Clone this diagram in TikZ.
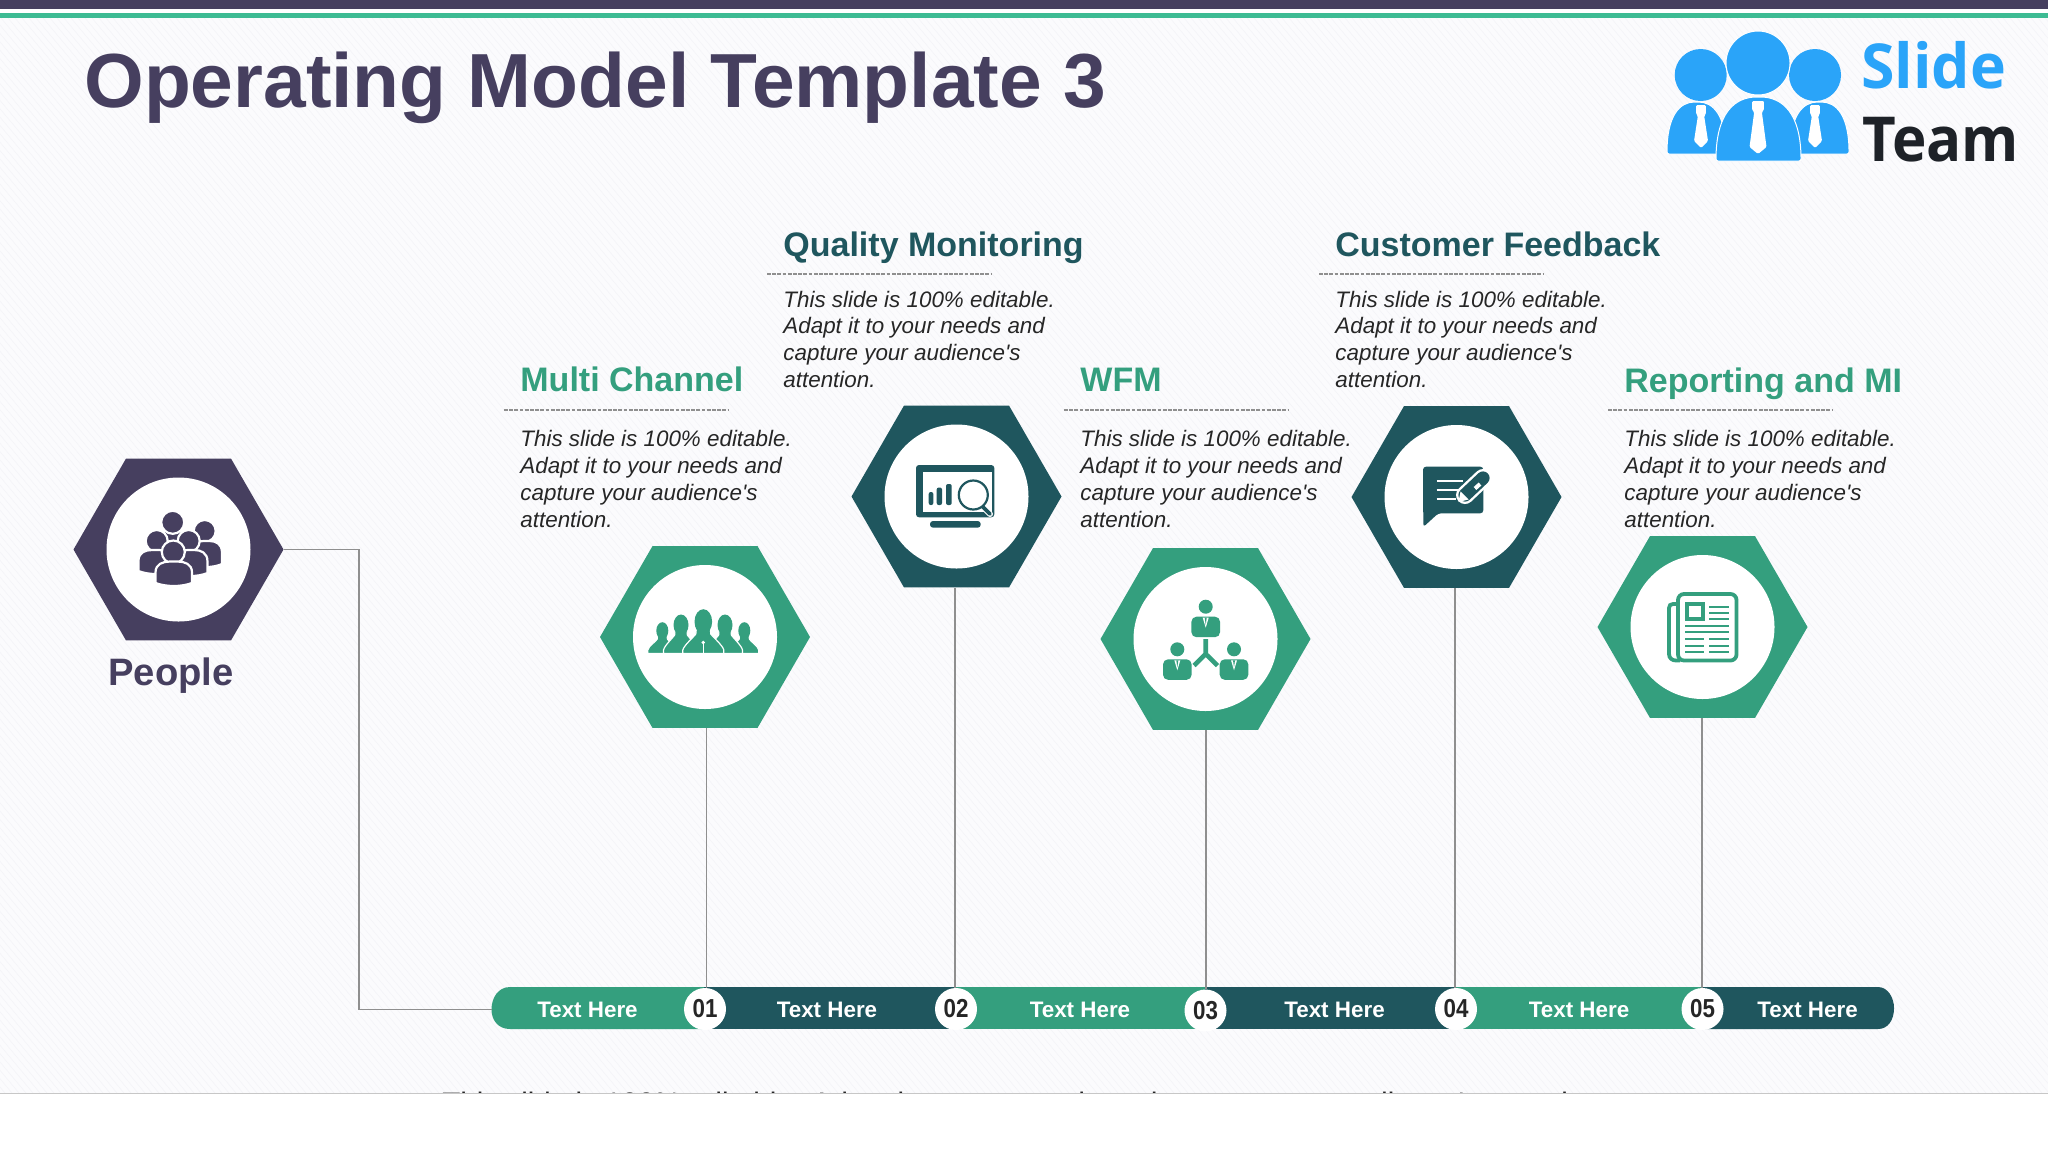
\documentclass[tikz,border=0pt]{standalone}
\usepackage{fontspec}
\usetikzlibrary{shapes.geometric}
\setmainfont{Liberation Sans}
\newfontfamily\plainsans{Liberation Sans}
\newfontfamily\logofont{Open Sans}
\definecolor{purp}{HTML}{463F5F}
\definecolor{topgreen}{HTML}{3DBB93}
\definecolor{grn}{HTML}{349F7E}
\definecolor{teal}{HTML}{1F565E}
\definecolor{bgc}{HTML}{FBFBFD}
\definecolor{hatchc}{HTML}{F4F4F8}
\definecolor{linec}{HTML}{8F8F8F}
\definecolor{txt}{HTML}{262626}
\definecolor{logob}{HTML}{2AA4F9}
\definecolor{logod}{HTML}{1E2228}
\tikzset{
  hexa/.style={regular polygon,regular polygon sides=6,minimum size=105pt,inner sep=0pt,draw=none},
  hole/.style={circle,fill=white,draw=none,minimum size=72pt,inner sep=0pt},
  conn/.style={draw=linec,line width=0.7pt},
  rulel/.style={draw=linec,line width=0.55pt,dash pattern=on 1.9pt off 0.7pt},
  heading/.style={anchor=base west,inner sep=0pt,font=\fontsize{17}{21}\selectfont\bfseries},
  bodytxt/.style={anchor=north west,inner sep=0pt,align=left,text=txt,font=\fontsize{11.2}{13.4}\selectfont\plainsans\itshape},
  barlabel/.style={text=white,inner sep=0pt,font=\fontsize{11.2}{13}\selectfont\bfseries},
  numdot/.style={circle,fill=white,draw=none,minimum size=21pt,inner sep=0pt,text=txt,font=\fontsize{13}{15}\selectfont\bfseries},
  icoP/.style={fill=purp,draw=white,line width=1.1pt},
  silG/.style={fill=grn,draw=white,line width=0.6pt},
}
\newcommand\hexnode[4]{%
  \node[hexa,fill=#4] (h#1) at (#2,#3) {};
  \node[hole] (c#1) at (#2,#3) {};}
\newcommand\bodytext{This slide is 100\% editable.\\Adapt it to your needs and\\capture your audience's\\attention.}
\newcommand\numtxt[1]{\scalebox{0.86}[1]{#1}}
% head cx cy r
\newcommand\ihead[4][icoP]{\path[#1] (#2,#3) circle[radius=#4];}
% left right top bottom
\newcommand\ibust[5][icoP]{\path[#1] (#2,{#5-3}) -- (#2,{#4+0.45*(#5-#4)})
  .. controls (#2,{#4+0.1*(#5-#4)}) and ({#2+0.2*(#3-#2)},#4) .. ({#2+0.4*(#3-#2)},#4)
  -- ({#2+0.6*(#3-#2)},#4)
  .. controls ({#2+0.8*(#3-#2)},#4) and (#3,{#4+0.1*(#5-#4)}) .. (#3,{#4+0.45*(#5-#4)})
  -- (#3,{#5-3}) .. controls ({#2+0.7*(#3-#2)},{#5+1}) and ({#2+0.3*(#3-#2)},{#5+1}) .. cycle;}
% silhouette: cx hy rx ry halfw top bottom
\newcommand\isil[7]{%
  \path[silG] ({#1-#5},#7) -- ({#1-#5},{#7-3.5}) .. controls ({#1-#5+1},{#7-8}) and ({#1-#3*1.1},{#6+3}) .. ({#1-#3*0.85},{#6})
    -- ({#1-#3*0.8},{#2+#4*0.6})
    -- ({#1+#3*0.8},{#2+#4*0.6}) -- ({#1+#3*0.85},{#6}) .. controls ({#1+#3*1.1},{#6+3}) and ({#1+#5-1},{#7-8}) .. ({#1+#5},{#7-3.5}) -- ({#1+#5},#7) -- cycle;
  \path[fill=grn] (#1,#2) ellipse[x radius=#3,y radius=#4];}
% suit person: cx head-cy
\newcommand\isuit[2]{%
  \fill[grn] (#1,#2) circle[radius=7];
  \fill[grn,rounded corners=2.5pt] ({#1-14.3},{#2+30.5}) -- ({#1-14.3},{#2+10}) -- ({#1+14.3},{#2+10}) -- ({#1+14.3},{#2+30.5}) -- cycle;
  \fill[white] ({#1-3},{#2+11}) -- ({#1+3},{#2+11}) -- (#1,{#2+21}) -- cycle;
  \fill[grn] ({#1-1},{#2+11}) -- ({#1+1},{#2+11}) -- (#1,{#2+18}) -- cycle;}
% logo body: left right top bottom
\newcommand\logobody[4]{\path[fill=logob,draw=white,line width=0.5pt,rounded corners=1pt]
  (#1,#4) .. controls (#1,{#3+0.25*(#4-#3)}) and ({#1+0.22*(#2-#1)},#3) .. ({(#1+#2)/2},#3)
  .. controls ({#2-0.22*(#2-#1)},#3) and (#2,{#3+0.25*(#4-#3)}) .. (#2,#4) -- cycle;}
% logo tie: cx halfw top tip
\newcommand\logotie[4]{\path[fill=white,rounded corners=0.6pt] ({#1-#2*0.7},#3) -- ({#1+#2*0.7},#3) -- ({#1+#2*0.7},{#3+9}) -- ({#1+#2*0.45},{#3+11})
  -- ({#1+#2},{#4-7}) -- (#1,#4) -- ({#1-#2},{#4-7}) -- ({#1-#2*0.45},{#3+11}) -- ({#1-#2*0.7},{#3+9}) -- cycle;}
\begin{document}
\begin{tikzpicture}[x=0.5pt,y=-0.5pt]
\useasboundingbox (0,0) rectangle (2048,1152);
\fill[white] (0,0) rectangle (2048,1152);
\fill[bgc] (0,18) rectangle (2048,1093);
\begin{scope}
  \clip (0,18) rectangle (2048,1093);
  \foreach \hx in {-1000,-993,...,2048}{\draw[hatchc,line width=0.3pt] (\hx,18) -- ({\hx+900},1093);}
\end{scope}
% cut-off footer text
\begin{scope}
  \clip (0,1000) rectangle (2048,1093.5);
  \node[anchor=base west,inner sep=0pt,text=txt,font=\fontsize{14.8}{17}\selectfont\plainsans] (foot) at (442,1113) {This slide is 100\% editable. Adapt it to your needs and capture your audience's attention.};
\end{scope}
\draw[draw=black!22,line width=0.6pt] (0,1093.3) -- (2048,1093.3);
% top bars
\fill[purp] (0,0) rectangle (2048,9);
\fill[topgreen] (0,13) rectangle (2048,18);
% title
\node[anchor=base west,inner sep=0pt,text=purp,font=\fontsize{38.35}{44}\selectfont\bfseries] (title) at (84,107) {Operating Model Template 3};
% logo
\fill[logob] (1700.7,75) circle[radius=26];
\fill[logob] (1815,75) circle[radius=26];
\logobody{1667}{1726}{102}{154}
\logobody{1790}{1849}{102}{154}
\path[fill=logob,draw=white,line width=0.5pt] (1758,63) circle[radius=32];
\logobody{1716}{1801}{97}{161}
\logotie{1701}{7}{105}{148}
\logotie{1758}{8.5}{101}{154}
\logotie{1815}{7}{105}{148}
\node[anchor=base west,inner sep=0pt,text=logob,font=\fontsize{31}{36}\selectfont\logofont\bfseries] (lgS) at (1861,88) {\scalebox{0.98}[1]{Slide}};
\node[anchor=base west,inner sep=0pt,text=logod,font=\fontsize{31}{36}\selectfont\logofont\bfseries] (lgT) at (1862,161) {\scalebox{0.94}[1]{Team}};
% hexagons
\hexnode{People}{178.5}{549.5}{purp}
\hexnode{Multi}{705}{637}{grn}
\hexnode{Quality}{956.5}{496.5}{teal}
\hexnode{WFM}{1205.5}{639}{grn}
\hexnode{Customer}{1456.5}{497}{teal}
\hexnode{Report}{1702.5}{627}{grn}
\node[anchor=base,inner sep=0pt,text=purp,font=\fontsize{19.1}{23}\selectfont\bfseries] (lpeople) at (171,685) {People};
% timeline bar
\coordinate (barL) at (491.5,1009.5);
\fill[grn] (510,987) .. controls (498,987) and (491.5,998) .. (barL) .. controls (491.5,1020) and (498,1029) .. (510,1029) -- (704,1029) -- (704,987) -- cycle;
\fill[teal] (704,987) rectangle (956,1029);
\fill[grn] (956,987) rectangle (1205,1029);
\fill[teal] (1205,987) rectangle (1456,1029);
\fill[grn] (1456,987) rectangle (1702,1029);
\fill[teal] (1702,987) -- (1878,987) .. controls (1888,987) and (1894,998) .. (1894,1008) .. controls (1894,1020) and (1888,1029) .. (1878,1029) -- (1702,1029) -- cycle;
\node[barlabel] (t1) at (587.5,1009.5) {Text Here};
\node[barlabel] (t2) at (827,1009.5) {Text Here};
\node[barlabel] (t3) at (1080,1009.5) {Text Here};
\node[barlabel] (t4) at (1334.5,1009.5) {Text Here};
\node[barlabel] (t5) at (1579,1009.5) {Text Here};
\node[barlabel] (t6) at (1807.5,1009.5) {Text Here};
\node[numdot] (n1) at (705,1009) {\numtxt{01}};
\node[numdot] (n2) at (956,1009) {\numtxt{02}};
\node[numdot] (n3) at (1205.5,1010.5) {\numtxt{03}};
\node[numdot] (n4) at (1456,1009) {\numtxt{04}};
\node[numdot] (n5) at (1702.5,1009) {\numtxt{05}};
% connectors
\coordinate (elbow) at (359,1009.5);
\draw[conn] (hPeople.east) -| (elbow) -- (barL);
\draw[conn] ([xshift=0.6pt]hMulti.south) -- ([xshift=0.6pt]hMulti.south |- n1.north);
\draw[conn] ([xshift=-0.7pt]hQuality.south) -- ([xshift=-0.7pt]hQuality.south |- n2.north);
\draw[conn] ([xshift=0.2pt]hWFM.south) -- ([xshift=0.2pt]hWFM.south |- n3.north);
\draw[conn] ([xshift=-0.7pt]hCustomer.south) -- ([xshift=-0.7pt]hCustomer.south |- n4.north);
\draw[conn] ([xshift=-0.2pt]hReport.south) -- ([xshift=-0.2pt]hReport.south |- n5.north);
% headings and text
\node[heading,text=grn] (hd1) at (520,391) {Multi Channel};
\draw[rulel] (504,410) -- (728,410);
\node[bodytxt] (b1) at (520,430) {\bodytext};
\node[heading,text=teal] (hd2) at (783,256) {Quality Monitoring};
\draw[rulel] (767,274) -- (991,274);
\node[bodytxt] (b2) at (783,290.5) {\bodytext};
\node[heading,text=grn] (hd3) at (1080,391) {WFM};
\draw[rulel] (1064,410) -- (1288,410);
\node[bodytxt] (b3) at (1080,430) {\bodytext};
\node[heading,text=teal] (hd4) at (1335,256) {Customer Feedback};
\draw[rulel] (1319,274) -- (1543,274);
\node[bodytxt] (b4) at (1335,290.5) {\bodytext};
\node[heading,text=grn] (hd5) at (1624,392) {Reporting and MI};
\draw[rulel] (1608,410) -- (1832,410);
\node[bodytxt] (b5) at (1624,430) {\bodytext};
% --- people icon
\ihead{204.7}{531}{11}
\ibust{191}{222}{541}{567}
\path[fill=purp] (162,532) rectangle (184,550);
\ihead{172.7}{522.3}{11.5}
\ihead{156.7}{541}{11}
\ibust{138.5}{172.5}{550}{574}
\ihead{188.7}{541}{11}
\ibust{174.5}{207.5}{550}{576}
\ihead{173.3}{552}{11.5}
\ibust{155.5}{192}{561.5}{586}
% --- multi channel icon
\isil{662.3}{630.7}{6}{8.5}{14.5}{639}{653.5}
\isil{744.3}{630.7}{6}{8.5}{14.5}{639}{653.5}
\isil{681}{625}{7.5}{10.5}{17.5}{635}{653.5}
\isil{725}{625}{7.5}{10.5}{17.5}{635}{653.5}
\isil{703.3}{621.7}{8.8}{12.5}{20.5}{634}{653.5}
\fill[white] (703.3,642.5) circle[radius=1.9];
\fill[white] (702.6,643) rectangle (704,654);
% --- monitor icon
\fill[teal,rounded corners=1.5pt] (916,465) rectangle (994.3,517.3);
\fill[white] (922.7,471.7) rectangle (991.5,511.7);
\fill[teal,rounded corners=1pt] (928.7,492) rectangle (933.3,505);
\fill[teal,rounded corners=1pt] (936.7,487.5) rectangle (942,505);
\fill[teal,rounded corners=1pt] (946,484) rectangle (951.7,505);
\draw[white,line width=3pt,line cap=round] (981,505) -- (990,514);
\draw[teal,line width=1.9pt,line cap=round] (981,505) -- (990,514);
\draw[teal,line width=1.1pt,fill=white] (973.3,495) circle[radius=14.5];
\fill[teal,rounded corners=1.5pt] (930,521) rectangle (980.7,527.7);
% --- WFM icon
\isuit{1205.7}{606.7}
\isuit{1177.3}{649.3}
\isuit{1234}{649.3}
\draw[grn,line width=2.3pt] (1205.7,639) -- (1205.7,654) -- (1194,665.5);
\draw[grn,line width=2.3pt] (1205.7,654) -- (1217.5,665.5);
% --- chat icon
\fill[teal,rounded corners=1.5pt] (1423,466.7) -- (1483.3,466.7) -- (1483.3,513.3) -- (1438.3,513.3) -- (1423.3,527) -- cycle;
\draw[white,line width=1pt] (1436.7,481) -- (1463,481);
\draw[white,line width=1pt] (1436.7,489.5) -- (1459,489.5);
\draw[white,line width=1pt] (1436.7,498.5) -- (1456,498.5);
\draw[white,line width=9pt,line cap=round] (1465,495) -- (1483,478);
\draw[teal,line width=6.6pt,line cap=round] (1465,495) -- (1483,478);
\fill[white] (1458.5,502) -- (1460.5,491.5) -- (1468.5,499.5) -- cycle;
\draw[white,line width=2pt] (1475,488.5) -- (1480,484);
% --- newspaper icon
\draw[grn,line width=1.9pt] (1677,604) -- (1673,604) .. controls (1670.5,604) and (1669,605.5) .. (1669,608) -- (1669,654) .. controls (1669,658) and (1672,660.5) .. (1676,660.5) -- (1680,660.5);
\draw[grn,line width=1.9pt,rounded corners=3pt] (1678,594) rectangle (1736.5,660.5);
\fill[grn] (1676,604) rectangle (1680,653);
\draw[grn,line width=2pt] (1687,603.5) rectangle (1702.5,618.5);
\foreach \ly in {606.7,613.3,619.3}{\draw[grn,line width=1pt] (1709,\ly) -- (1729,\ly);}
\foreach \ly in {626,632.3}{\draw[grn,line width=1pt] (1685,\ly) -- (1729,\ly);}
\foreach \ly in {639,645.7,652.3}{\draw[grn,line width=1pt] (1685,\ly) -- (1704.3,\ly);\draw[grn,line width=1pt] (1709,\ly) -- (1729,\ly);}
\end{tikzpicture}
\end{document}
